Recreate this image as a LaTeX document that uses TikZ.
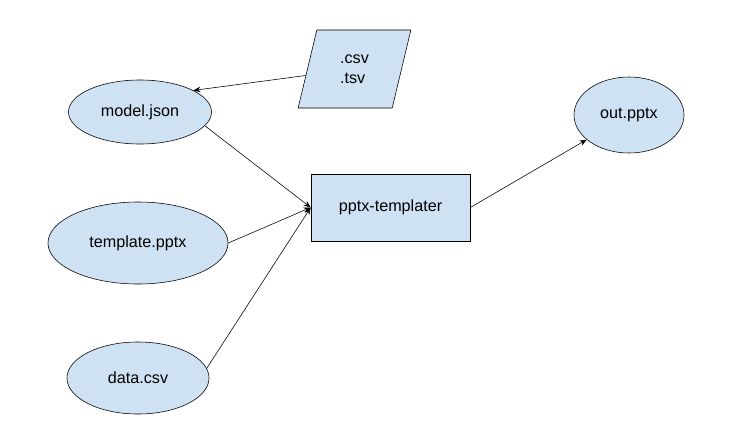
\documentclass[tikz,border=0pt]{standalone}
\usepackage{fontspec}
\setmainfont{Liberation Sans}
\usetikzlibrary{shapes.geometric,arrows.meta}
\definecolor{boxblue}{HTML}{CFE2F3}
\tikzset{
    file/.style={ellipse,draw=black,fill=boxblue,inner sep=0pt},
    tool/.style={rectangle,draw=black,fill=boxblue,minimum width=3.975cm,minimum height=1.675cm},
    link/.style={-{Stealth[length=5pt,width=4pt]},thin}
}
\begin{document}
\begin{tikzpicture}[x=0.025cm,y=-0.025cm,font=\fontsize{11.5}{14}\selectfont]
    \useasboundingbox (0,0) rectangle (747,433);
    % inputs
    \node[file,minimum width=3.575cm,minimum height=1.6cm] (model) at (140,112) {model.json};
    \node[file,minimum width=4.5cm,minimum height=2.05cm] (template) at (138,243) {template.pptx};
    \node[file,minimum width=3.55cm,minimum height=1.8cm] (data) at (138,378) {data.csv};
    \node[trapezium,trapezium left angle=76,trapezium right angle=104,trapezium stretches=true,
          draw=black,fill=boxblue,minimum width=2.825cm,minimum height=1.95cm,align=left] (tables) at (354.5,69) {.csv\\.tsv};
    % tool and output
    \node[tool] (templater) at (390.5,207.5) {pptx-templater};
    \node[file,minimum width=2.75cm,minimum height=1.9cm] (out) at (629,115) {out.pptx};
    % connectors
    \draw[link] (tables) -- (model.22);
    \draw[link] (model.-12) -- (templater.west);
    \draw[link] (template.east) -- (templater.west);
    \draw[link] (data.8) -- (templater.west);
    \draw[link] (templater.east) -- (out);
\end{tikzpicture}
\end{document}
